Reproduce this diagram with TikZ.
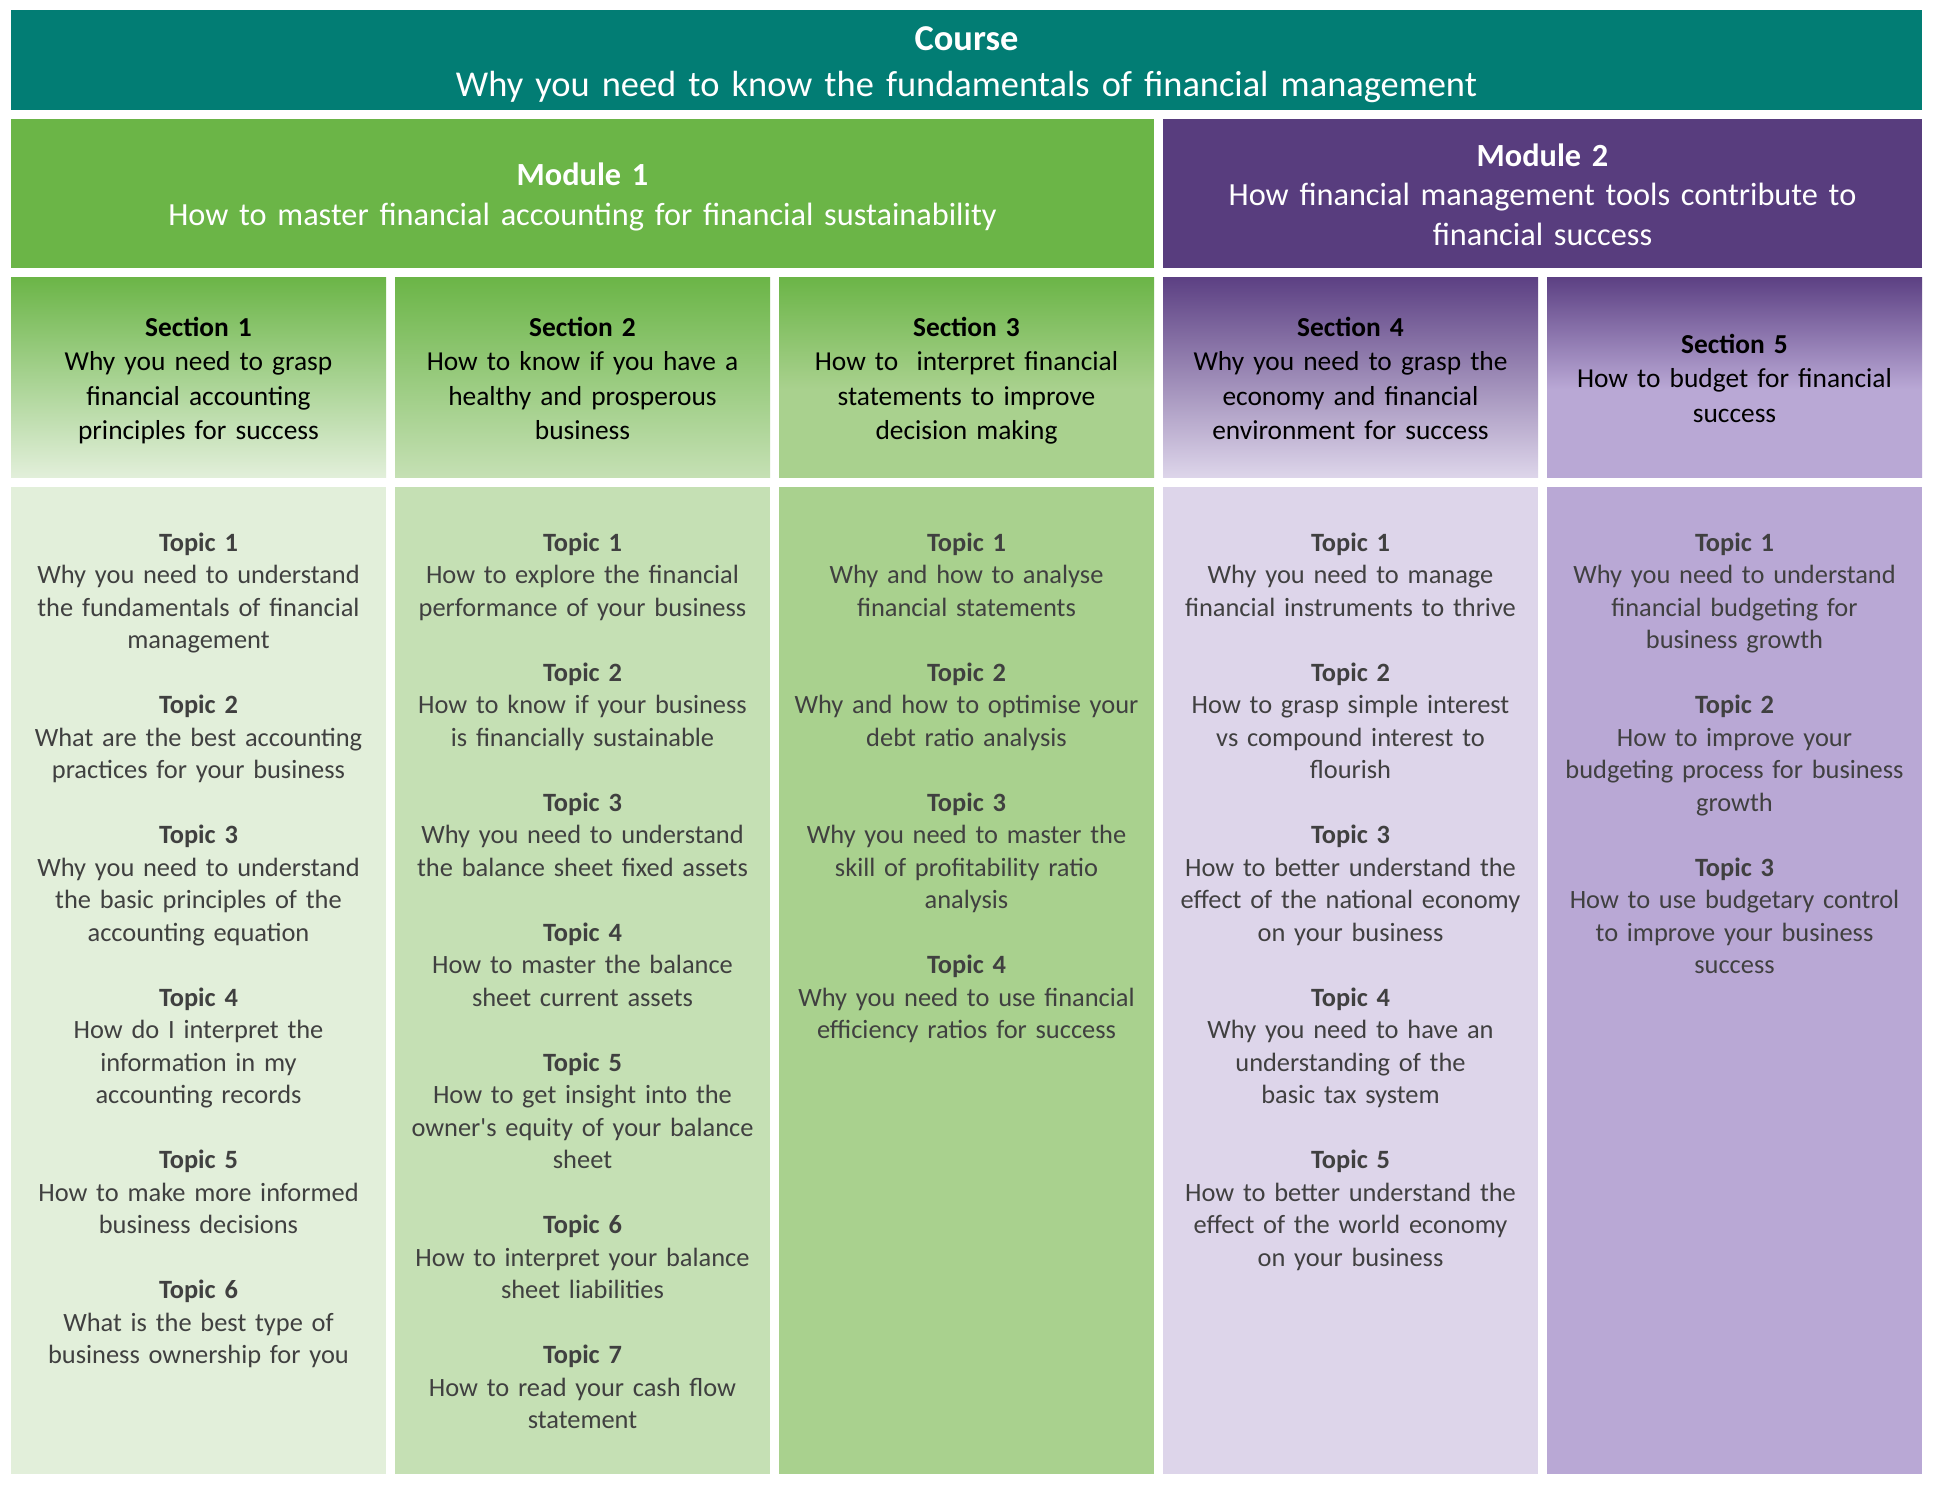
\documentclass[tikz,border=0pt]{standalone}
\usepackage{fontspec}
\setmainfont{Carlito}
\newfontfamily\plainapos{Carlito}
\newcommand\topstrut{\rule{0pt}{\dimexpr0.7\baselineskip+8pt\relax}}
\definecolor{courseteal}{HTML}{027D74}
\definecolor{modgreen}{HTML}{6BB547}
\definecolor{modpurple}{HTML}{583D7E}
\definecolor{secgreen}{HTML}{6BB547}
\definecolor{secpurple}{HTML}{5C4083}
\definecolor{lgA}{HTML}{E2EFDA}
\definecolor{lgB}{HTML}{C5E0B4}
\definecolor{lgC}{HTML}{A9D18E}
\definecolor{lpD}{HTML}{DDD5EA}
\definecolor{lpE}{HTML}{B9A8D5}
\definecolor{topictext}{HTML}{404040}
\pgfdeclareverticalshading{shA}{100bp}{color(0bp)=(lgA); color(25bp)=(lgA); color(75bp)=(secgreen); color(100bp)=(secgreen)}
\pgfdeclareverticalshading{shB}{100bp}{color(0bp)=(lgB); color(25bp)=(lgB); color(75bp)=(secgreen); color(100bp)=(secgreen)}
\pgfdeclareverticalshading{shC}{100bp}{color(0bp)=(lgC); color(25bp)=(lgC); color(47bp)=(lgC); color(75bp)=(secgreen); color(100bp)=(secgreen)}
\pgfdeclareverticalshading{shD}{100bp}{color(0bp)=(lpD); color(25bp)=(lpD); color(75bp)=(secpurple); color(100bp)=(secpurple)}
\pgfdeclareverticalshading{shE}{100bp}{color(0bp)=(lpE); color(25bp)=(lpE); color(47bp)=(lpE); color(75bp)=(secpurple); color(100bp)=(secpurple)}
\begin{document}
\begin{tikzpicture}[x=1pt,y=-1pt,
  box/.style={draw=none, inner sep=0pt, outer sep=0pt, align=center},
  coursebox/.style={box, fill=courseteal, text=white, minimum width=1911pt, minimum height=100pt, text width=1800pt, font=\fontsize{36.4}{46}\selectfont},
  modbox/.style={box, text=white, minimum height=149pt, font=\fontsize{32.3}{39.6}\selectfont},
  secbox/.style={box, shade, text=black, minimum width=375pt, minimum height=200pt, text width=360pt, font=\fontsize{27.4}{34.6}\selectfont},
  topbox/.style={box, minimum width=375pt, minimum height=987pt},
  topictxt/.style={box, anchor=base, text width=370pt, text=topictext, font=\fontsize{26.4}{32.5}\selectfont}
]
\fill[white] (0,0) rectangle (1935,1485);
\useasboundingbox (0,0) rectangle (1935,1485);

\node[coursebox] (course) at (966.5,60) {\topstrut\textbf{Course}\\Why you need to know the fundamentals of financial management\strut};

\node[modbox, fill=modgreen, minimum width=1143pt, text width=1100pt] (mod1) at (582.5,193.5) {\topstrut\textbf{Module 1}\\How to master financial accounting for financial sustainability\strut};
\node[modbox, fill=modpurple, minimum width=759pt, text width=740pt] (mod2) at (1542.5,193.5) {\rule{0pt}{\dimexpr0.7\baselineskip+9pt\relax}\textbf{Module 2}\\How financial management tools contribute to\\financial success\strut};

\node[secbox, shading=shA] (sec1) at (198.5,377) {\topstrut\textbf{Section 1}\\Why you need to grasp\\financial accounting\\principles for success\strut};
\node[secbox, shading=shB] (sec2) at (582.5,377) {\topstrut\textbf{Section 2}\\How to know if you have a\\healthy and prosperous\\business\strut};
\node[secbox, shading=shC] (sec3) at (966.5,377) {\topstrut\textbf{Section 3}\\How to\ \ interpret financial\\statements to improve\\decision making\strut};
\node[secbox, shading=shD] (sec4) at (1350.5,377) {\topstrut\textbf{Section 4}\\Why you need to grasp the\\economy and financial\\environment for success\strut};
\node[secbox, shading=shE] (sec5) at (1734.5,377) {\topstrut\textbf{Section 5}\\How to budget for financial\\success\strut};

\node[topbox, fill=lgA] (col1) at (198.5,980.5) {};
\node[topbox, fill=lgB] (col2) at (582.5,980.5) {};
\node[topbox, fill=lgC] (col3) at (966.5,980.5) {};
\node[topbox, fill=lpD] (col4) at (1350.5,980.5) {};
\node[topbox, fill=lpE] (col5) at (1734.5,980.5) {};

\node[topictxt] (t1) at (198.5,551) {\textbf{Topic 1}\\Why you need to understand\\the fundamentals of financial\\management\\[32.5pt]
\textbf{Topic 2}\\What are the best accounting\\practices for your business\\[32.5pt]
\textbf{Topic 3}\\Why you need to understand\\the basic principles of the\\accounting equation\\[32.5pt]
\textbf{Topic 4}\\How do I interpret the\\information in my\\accounting records\\[32.5pt]
\textbf{Topic 5}\\How to make more informed\\business decisions\\[32.5pt]
\textbf{Topic 6}\\What is the best type of\\business ownership for you};

\node[topictxt] (t2) at (582.5,551) {\textbf{Topic 1}\\How to explore the financial\\performance of your business\\[32.5pt]
\textbf{Topic 2}\\How to know if your business\\is financially sustainable\\[32.5pt]
\textbf{Topic 3}\\Why you need to understand\\the balance sheet fixed assets\\[32.5pt]
\textbf{Topic 4}\\How to master the balance\\sheet current assets\\[32.5pt]
\textbf{Topic 5}\\How to get insight into the\\owner{\plainapos '}s equity of your balance\\sheet\\[32.5pt]
\textbf{Topic 6}\\How to interpret your balance\\sheet liabilities\\[32.5pt]
\textbf{Topic 7}\\How to read your cash flow\\statement};

\node[topictxt] (t3) at (966.5,551) {\textbf{Topic 1}\\Why and how to analyse\\financial statements\\[32.5pt]
\textbf{Topic 2}\\Why and how to optimise your\\debt ratio analysis\\[32.5pt]
\textbf{Topic 3}\\Why you need to master the\\skill of profitability ratio\\analysis\\[32.5pt]
\textbf{Topic 4}\\Why you need to use financial\\efficiency ratios for success};

\node[topictxt] (t4) at (1350.5,551) {\textbf{Topic 1}\\Why you need to manage\\financial instruments to thrive\\[32.5pt]
\textbf{Topic 2}\\How to grasp simple interest\\vs compound interest to\\flourish\\[32.5pt]
\textbf{Topic 3}\\How to better understand the\\effect of the national economy\\on your business\\[32.5pt]
\textbf{Topic 4}\\Why you need to have an\\understanding of the\\basic tax system\\[32.5pt]
\textbf{Topic 5}\\How to better understand the\\effect of the world economy\\on your business};

\node[topictxt] (t5) at (1734.5,551) {\textbf{Topic 1}\\Why you need to understand\\financial budgeting for\\business growth\\[32.5pt]
\textbf{Topic 2}\\How to improve your\\budgeting process for business\\growth\\[32.5pt]
\textbf{Topic 3}\\How to use budgetary control\\to improve your business\\success};
\end{tikzpicture}
\end{document}
